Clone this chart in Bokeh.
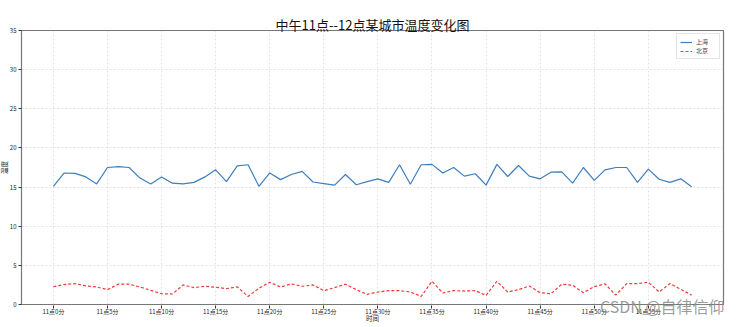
from bokeh.plotting import figure
from bokeh.models import Range1d, FixedTicker, Title, Legend, LegendItem
from bokeh.embed import file_html
from bokeh.resources import INLINE

FONT = "Noto Sans CJK SC"

# ---- data ----
minutes = list(range(60))
tick_positions = [0, 5, 10, 15, 20, 25, 30, 35, 40, 45, 50, 55]
tick_labels = ["11点0分", "11点5分", "11点10分", "11点15分", "11点20分", "11点25分",
               "11点30分", "11点35分", "11点40分", "11点45分", "11点50分", "11点55分"]
y_ticks = [0, 5, 10, 15, 20, 25, 30, 35]

shanghai = [15.1, 16.8, 16.75, 16.3, 15.4, 17.5, 17.6, 17.5, 16.15, 15.4,
            16.3, 15.5, 15.4, 15.6, 16.3, 17.2, 15.7, 17.7, 17.85, 15.1,
            16.8, 15.95, 16.6, 17.0, 15.65, 15.45, 15.25, 16.6, 15.3, 15.7,
            16.05, 15.6, 17.85, 15.35, 17.85, 17.9, 16.8, 17.5, 16.4, 16.7,
            15.25, 17.9, 16.35, 17.75, 16.4, 16.05, 16.9, 16.95, 15.5, 17.5,
            15.85, 17.2, 17.5, 17.5, 15.6, 17.3, 16.0, 15.6, 16.05, 15.05]
beijing = [2.28, 2.55, 2.67, 2.37, 2.24, 1.9, 2.59, 2.59, 2.24, 1.8,
           1.38, 1.34, 2.5, 2.15, 2.33, 2.2, 2.03, 2.24, 1.03, 2.07,
           2.84, 2.24, 2.63, 2.33, 2.5, 1.77, 2.15, 2.59, 1.9, 1.3,
           1.6, 1.77, 1.77, 1.6, 1.03, 2.97, 1.47, 1.77, 1.72, 1.77,
           1.16, 2.97, 1.6, 1.9, 2.37, 1.5, 1.38, 2.59, 2.46, 1.5,
           2.28, 2.63, 1.2, 2.67, 2.67, 2.84, 1.6, 2.67, 1.94, 1.2]
series_names = ["上海", "北京"]
title_text = "中午11点--12点某城市温度变化图"
x_label = "时间"
y_label = "温度"
watermark = "CSDN @自律信仰"

# ---- figure ----
p = figure(width=739, height=327, output_backend="svg", toolbar_location=None,
           x_range=Range1d(-2.95, 61.95), y_range=Range1d(0, 35),
           min_border_left=21, min_border_right=16, min_border_top=30,
           min_border_bottom=23)
p.background_fill_color = "white"
p.border_fill_color = "white"
p.outline_line_color = "#777777"
p.outline_line_width = 1.2

p.title.text = title_text
p.title.align = "center"
p.title.text_font = FONT
p.title.text_font_size = "13px"
p.title.text_font_style = "normal"
p.title.text_color = "#111111"
p.title.standoff = -6
p.title.offset = 0

for ax in (p.xaxis[0], p.yaxis[0]):
    ax.axis_line_color = None
    ax.major_tick_in = 0
    ax.major_tick_out = 3
    ax.minor_tick_line_color = None
    ax.major_tick_line_color = "#333333"
    ax.major_label_text_font = FONT
    ax.major_label_text_font_size = "6px"
    ax.major_label_text_color = "#222222"

xa = p.xaxis[0]
xa.major_label_standoff = -2
xa.axis_label = x_label
xa.axis_label_text_font = FONT
xa.axis_label_text_font_size = "6.5px"
xa.axis_label_text_font_style = "normal"
xa.axis_label_text_color = "#222222"
xa.axis_label_standoff = -6
xa.ticker = FixedTicker(ticks=tick_positions)
xa.major_label_overrides = {t: l for t, l in zip(tick_positions, tick_labels)}

ya = p.yaxis[0]
ya.major_label_standoff = 2
ya.ticker = FixedTicker(ticks=y_ticks)

p.xgrid[0].ticker = FixedTicker(ticks=tick_positions)
p.ygrid[0].ticker = FixedTicker(ticks=y_ticks)
for g in (p.xgrid[0], p.ygrid[0]):
    g.grid_line_color = "#c8c8c8"
    g.grid_line_alpha = 0.6
    g.grid_line_dash = "2 2"
    g.grid_line_width = 0.8

r1 = p.line(minutes, shanghai, line_color="#3d7fbe", line_width=1.2)
r2 = p.line(minutes, beijing, line_color="#f03a3a", line_width=1.2, line_dash="3 2")

legend = Legend(items=[LegendItem(label=series_names[0], renderers=[r1]),
                       LegendItem(label=series_names[1], renderers=[r2])],
                location="top_right")
legend.label_text_font = FONT
legend.label_text_font_size = "6px"
legend.label_height = 8
legend.glyph_height = 8
legend.glyph_width = 12
legend.label_standoff = 4
legend.padding = 3
legend.spacing = 0
legend.margin = 3
legend.border_line_color = "#cccccc"
legend.border_line_width = 0.8
legend.background_fill_alpha = 0.9
p.add_layout(legend)

# y axis label as a narrow title panel outside the y axis
ylab = Title(text=y_label, align="center", vertical_align="middle",
             text_font=FONT, text_font_size="6.5px", text_font_style="normal",
             text_color="#222222", standoff=-6, offset=0)
p.add_layout(ylab, "left")

# watermark as a zero-height title panel placed next to the frame
wm = Title(text=watermark, align="right", vertical_align="bottom",
           text_font=FONT, text_font_size="16px", text_font_style="normal",
           text_color="#8a8a8a", text_alpha=0.85, standoff=-25, offset=-1)
p.below = [wm] + list(p.below)

open("out.html", "w").write(file_html(p, INLINE))
